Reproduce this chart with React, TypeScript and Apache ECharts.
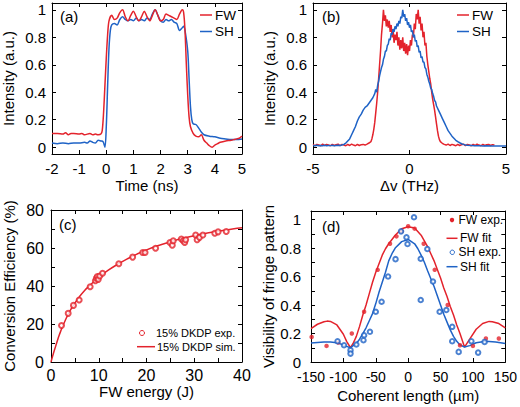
import React, { useEffect, useRef } from 'react';
import * as echarts from 'echarts';

const RED = '#e3232c';
const BLUE = '#1f63c6';
const FONT = 'Liberation Sans, Arial, sans-serif';

// (a) temporal profiles: [time ns, intensity]
const timeFW: number[][] = [
  [-2.0, 0.1], [-1.8, 0.1], [-1.6, 0.095], [-1.5, 0.105], [-1.4, 0.09], [-1.3, 0.1], [-1.2, 0.1], [-1.0, 0.095],
  [-0.9, 0.1], [-0.8, 0.09], [-0.6, 0.1], [-0.5, 0.09], [-0.4, 0.095], [-0.3, 0.09], [-0.2, 0.095], [-0.15, 0.12],
  [-0.1, 0.25], [-0.05, 0.45], [0.0, 0.65], [0.05, 0.82], [0.1, 0.92], [0.2, 0.96], [0.3, 0.93], [0.4, 0.94],
  [0.5, 0.98], [0.6, 1.0], [0.7, 0.95], [0.8, 0.92], [0.9, 0.96], [1.0, 0.99], [1.1, 0.95], [1.2, 0.92],
  [1.3, 0.95], [1.4, 0.99], [1.5, 0.95], [1.6, 0.92], [1.7, 0.96], [1.8, 1.0], [1.9, 0.96], [2.0, 0.92],
  [2.1, 0.93], [2.2, 0.97], [2.3, 0.96], [2.4, 0.95], [2.5, 0.94], [2.6, 0.93], [2.7, 0.97], [2.8, 1.0],
  [2.85, 0.98], [2.9, 0.85], [2.95, 0.6], [3.0, 0.38], [3.05, 0.22], [3.1, 0.15], [3.2, 0.1], [3.3, 0.08],
  [3.4, 0.075], [3.5, 0.09], [3.6, 0.05], [3.7, 0.03], [3.8, 0.01], [3.9, 0.0], [4.0, 0.015], [4.1, 0.025],
  [4.2, 0.035], [4.4, 0.045], [4.6, 0.05], [4.75, 0.058], [4.9, 0.065], [5.0, 0.08],
];
const timeSH: number[][] = [
  [-2.0, 0.03], [-1.8, 0.025], [-1.6, 0.03], [-1.4, 0.025], [-1.2, 0.03], [-1.0, 0.03], [-0.8, 0.035], [-0.7, 0.03],
  [-0.6, 0.045], [-0.5, 0.035], [-0.4, 0.03], [-0.3, 0.05], [-0.2, 0.045], [-0.12, 0.04], [-0.05, 0.0], [0.0, 0.15],
  [0.05, 0.45], [0.1, 0.72], [0.15, 0.85], [0.2, 0.89], [0.3, 0.9], [0.4, 0.89], [0.5, 0.93], [0.6, 0.95],
  [0.7, 0.93], [0.8, 0.92], [0.9, 0.93], [1.0, 0.92], [1.1, 0.94], [1.2, 0.92], [1.3, 0.93], [1.4, 0.92],
  [1.5, 0.94], [1.6, 0.93], [1.7, 0.97], [1.8, 1.0], [1.9, 0.96], [2.0, 0.92], [2.1, 0.91], [2.2, 0.93],
  [2.3, 0.92], [2.4, 0.93], [2.5, 0.91], [2.6, 0.9], [2.7, 0.85], [2.8, 0.87], [2.85, 0.88], [2.9, 0.85],
  [3.0, 0.7], [3.05, 0.5], [3.1, 0.3], [3.15, 0.2], [3.2, 0.17], [3.3, 0.165], [3.4, 0.14], [3.5, 0.11],
  [3.6, 0.09], [3.8, 0.08], [4.0, 0.075], [4.2, 0.065], [4.4, 0.06], [4.6, 0.055], [4.8, 0.055], [5.0, 0.06],
];

// (b) spectra: [Δv THz, intensity]
const specFW: number[][] = [
  [-5.0, 0.02], [-4.9, 0.01], [-4.8, 0.02], [-4.7, 0.015], [-4.6, 0.01], [-4.5, 0.022], [-4.4, 0.012], [-4.3, 0.02],
  [-4.2, 0.015], [-4.1, 0.01], [-4.0, 0.02], [-3.9, 0.012], [-3.8, 0.018], [-3.7, 0.022], [-3.6, 0.01], [-3.5, 0.02],
  [-3.4, 0.015], [-3.3, 0.01], [-3.2, 0.02], [-3.1, 0.012], [-3.0, 0.022], [-2.9, 0.015], [-2.8, 0.01], [-2.7, 0.02],
  [-2.6, 0.012], [-2.5, 0.018], [-2.4, 0.02], [-2.3, 0.015], [-2.2, 0.022], [-2.1, 0.03], [-2.0, 0.04], [-1.95, 0.06],
  [-1.9, 0.09], [-1.85, 0.13], [-1.8, 0.18], [-1.75, 0.25], [-1.7, 0.32], [-1.65, 0.4], [-1.6, 0.5], [-1.55, 0.6],
  [-1.5, 0.7], [-1.45, 0.82], [-1.4, 0.9], [-1.35, 1.0], [-1.3, 0.92], [-1.25, 0.96], [-1.2, 0.88], [-1.15, 0.93],
  [-1.1, 0.87], [-1.05, 0.92], [-1.0, 0.84], [-0.95, 0.89], [-0.9, 0.8], [-0.85, 0.86], [-0.8, 0.76], [-0.75, 0.82],
  [-0.7, 0.78], [-0.65, 0.84], [-0.6, 0.74], [-0.55, 0.8], [-0.5, 0.71], [-0.45, 0.78], [-0.4, 0.72], [-0.35, 0.8],
  [-0.3, 0.7], [-0.25, 0.76], [-0.2, 0.68], [-0.15, 0.75], [-0.1, 0.67], [-0.05, 0.74], [0.0, 0.7], [0.05, 0.78],
  [0.1, 0.74], [0.15, 0.82], [0.2, 0.8], [0.25, 0.9], [0.3, 0.86], [0.35, 0.97], [0.4, 0.93], [0.45, 1.0],
  [0.5, 0.9], [0.55, 0.95], [0.6, 0.85], [0.65, 0.9], [0.7, 0.8], [0.75, 0.84], [0.8, 0.74], [0.85, 0.76],
  [0.9, 0.66], [0.95, 0.6], [1.0, 0.55], [1.05, 0.5], [1.1, 0.46], [1.15, 0.4], [1.2, 0.35], [1.25, 0.31],
  [1.3, 0.27], [1.35, 0.22], [1.4, 0.17], [1.45, 0.12], [1.5, 0.08], [1.55, 0.055], [1.6, 0.04], [1.7, 0.028],
  [1.8, 0.02], [1.9, 0.015], [2.0, 0.022], [2.1, 0.012], [2.2, 0.02], [2.3, 0.015], [2.4, 0.01], [2.5, 0.02],
  [2.6, 0.012], [2.7, 0.018], [2.8, 0.022], [2.9, 0.01], [3.0, 0.02], [3.1, 0.015], [3.2, 0.01], [3.3, 0.02],
  [3.4, 0.012], [3.5, 0.022], [3.6, 0.015], [3.7, 0.01], [3.8, 0.02], [3.9, 0.012], [4.0, 0.018], [4.1, 0.02],
  [4.2, 0.012], [4.3, 0.018], [4.4, 0.015],
];
const specSH: number[][] = [
  [-5.0, 0.012], [-4.9, 0.01], [-4.8, 0.014], [-4.7, 0.01], [-4.6, 0.012], [-4.5, 0.01], [-4.4, 0.013], [-4.3, 0.01],
  [-4.2, 0.012], [-4.1, 0.011], [-4.0, 0.013], [-3.9, 0.01], [-3.8, 0.012], [-3.7, 0.014], [-3.6, 0.012], [-3.5, 0.015],
  [-3.4, 0.02], [-3.3, 0.03], [-3.2, 0.045], [-3.1, 0.06], [-3.0, 0.09], [-2.9, 0.12], [-2.8, 0.15], [-2.7, 0.19],
  [-2.6, 0.22], [-2.5, 0.24], [-2.4, 0.27], [-2.3, 0.29], [-2.2, 0.3], [-2.1, 0.32], [-2.0, 0.34], [-1.9, 0.36],
  [-1.8, 0.39], [-1.75, 0.42], [-1.7, 0.4], [-1.65, 0.45], [-1.6, 0.48], [-1.55, 0.52], [-1.5, 0.55], [-1.45, 0.58],
  [-1.4, 0.6], [-1.35, 0.64], [-1.3, 0.66], [-1.25, 0.7], [-1.2, 0.7], [-1.15, 0.74], [-1.1, 0.75], [-1.05, 0.79],
  [-1.0, 0.78], [-0.95, 0.83], [-0.9, 0.82], [-0.85, 0.86], [-0.8, 0.84], [-0.75, 0.88], [-0.7, 0.86], [-0.65, 0.9],
  [-0.6, 0.88], [-0.55, 0.92], [-0.5, 0.9], [-0.45, 0.95], [-0.4, 0.94], [-0.35, 1.0], [-0.3, 0.95], [-0.25, 0.97],
  [-0.2, 0.92], [-0.15, 0.94], [-0.1, 0.89], [-0.05, 0.91], [0.0, 0.87], [0.05, 0.89], [0.1, 0.84], [0.15, 0.85],
  [0.2, 0.8], [0.25, 0.82], [0.3, 0.77], [0.35, 0.78], [0.4, 0.73], [0.45, 0.74], [0.5, 0.69], [0.55, 0.7],
  [0.6, 0.65], [0.65, 0.66], [0.7, 0.62], [0.75, 0.62], [0.8, 0.58], [0.85, 0.57], [0.9, 0.53], [0.95, 0.51],
  [1.0, 0.48], [1.05, 0.46], [1.1, 0.43], [1.15, 0.42], [1.2, 0.39], [1.25, 0.37], [1.3, 0.34], [1.35, 0.33],
  [1.4, 0.3], [1.5, 0.27], [1.6, 0.24], [1.7, 0.21], [1.8, 0.18], [1.9, 0.15], [2.0, 0.12], [2.1, 0.1],
  [2.2, 0.08], [2.3, 0.065], [2.4, 0.05], [2.5, 0.04], [2.6, 0.032], [2.7, 0.025], [2.8, 0.02], [2.9, 0.016],
  [3.0, 0.013], [3.2, 0.012], [3.4, 0.01], [3.6, 0.011], [3.8, 0.009], [4.0, 0.01], [4.2, 0.008], [4.4, 0.009],
  [4.6, 0.008], [4.8, 0.008], [5.0, 0.008],
];

// (c) conversion efficiency: [FW energy J, efficiency %]
const effExp: number[][] = [
  [2.2, 19.2], [3.6, 25.6], [4.7, 29.8], [5.9, 32.6], [8.2, 39.6], [9.3, 42.8], [9.5, 44.1], [9.7, 45],
  [9.9, 43.5], [10.2, 45.3], [10.8, 46.7], [14.2, 51.7], [17.1, 55.2], [19.2, 57.6], [19.7, 57.6], [21.9, 59.9],
  [24.9, 62.9], [25.4, 61.5], [25.6, 63.8], [27.3, 64.7], [27.7, 63.8], [28.0, 62.9], [28.2, 64.3], [30.3, 66.8],
  [30.6, 64.3], [31.1, 65.6], [31.8, 66.8], [34.3, 67.8], [35.0, 68.5], [36.7, 68.7],
];
const effSim: number[][] = [
  [0, 0], [0.5, 4.5], [1, 8.5], [1.5, 12.5], [2, 16], [3, 22], [4, 27], [5, 31], [6, 34.5], [7, 37.5], [8, 40],
  [9, 42.3], [10, 44.5], [12, 48.3], [14, 51.5], [16, 54.3], [18, 56.8], [20, 59], [22, 60.9], [24, 62.5],
  [26, 64], [28, 65.3], [30, 66.5], [32, 67.5], [34, 68.4], [36, 69.2], [38, 70], [40, 70.6],
];

// (d) fringe visibility: [coherent length µm, visibility]
const visFWExp: number[][] = [
  [-149, 0.176], [-126, 0.113], [-108, 0.137], [-87, 0.2], [-68, 0.353], [-47, 0.647], [-28, 0.83], [-18, 0.882],
  [-10, 0.917], [0, 0.953], [10, 0.936], [24, 0.83], [41, 0.647], [61, 0.4], [80, 0.118], [100, 0.113],
  [120, 0.165], [140, 0.165],
];
const visFWFit: number[][] = [
  [-150, 0.235], [-140, 0.265], [-130, 0.283], [-125, 0.287], [-120, 0.285], [-110, 0.26], [-100, 0.195], [-95, 0.145],
  [-89, 0.1], [-85, 0.13], [-80, 0.18], [-75, 0.25], [-70, 0.33], [-65, 0.4], [-60, 0.48], [-55, 0.56],
  [-50, 0.63], [-45, 0.69], [-40, 0.75], [-35, 0.795], [-30, 0.83], [-20, 0.89], [-10, 0.935], [0, 0.95],
  [10, 0.94], [20, 0.89], [25, 0.85], [30, 0.81], [35, 0.76], [40, 0.71], [45, 0.65], [50, 0.59],
  [55, 0.52], [60, 0.46], [65, 0.39], [70, 0.33], [75, 0.26], [80, 0.2], [87, 0.105], [95, 0.16],
  [105, 0.23], [115, 0.27], [125, 0.285], [130, 0.283], [140, 0.27], [150, 0.24],
];
const visSHExp: number[][] = [
  [-109, 0.146], [-99, 0.118], [-89, 0.083], [-89, 0.059], [-80, 0.123], [-69, 0.153], [-68, 0.188], [-59, 0.212],
  [-50, 0.353], [-41, 0.423], [-31, 0.6], [-19.5, 0.722], [-11, 0.917], [-2.6, 0.875], [-1, 0.828], [9, 1.016],
  [19.4, 0.725], [19.4, 0.435], [29.6, 0.793], [38.3, 0.565], [48.6, 0.353], [58.9, 0.365], [68, 0.247], [68, 0.146],
  [78, 0.071], [97.6, 0.146], [108, 0.066], [118, 0.141],
];
const visSHFit: number[][] = [
  [-150, 0.134], [-140, 0.137], [-130, 0.14], [-120, 0.141], [-110, 0.135], [-100, 0.12], [-95, 0.11], [-89, 0.1],
  [-85, 0.115], [-80, 0.13], [-75, 0.16], [-70, 0.2], [-65, 0.24], [-60, 0.29], [-55, 0.34], [-50, 0.41],
  [-45, 0.49], [-40, 0.56], [-35, 0.63], [-30, 0.71], [-25, 0.76], [-20, 0.8], [-10, 0.845], [0, 0.86],
  [10, 0.83], [15, 0.795], [20, 0.75], [25, 0.7], [30, 0.64], [35, 0.585], [40, 0.53], [45, 0.465],
  [50, 0.4], [55, 0.335], [60, 0.28], [65, 0.225], [70, 0.18], [75, 0.145], [80, 0.12], [87, 0.105],
  [95, 0.115], [105, 0.135], [120, 0.146], [135, 0.141], [150, 0.13],
];

const TICK_FS = 15;
const NAME_FS = 15;

function xAxes(grid: number, min: number, max: number, interval: number, name: string, nameGap: number, labelMargin: number, minor?: boolean, fs = TICK_FS) {
  const common: any = {
    type: 'value', gridIndex: grid, min, max, interval,
    axisLine: { show: true, onZero: false, lineStyle: { color: '#000', width: 1 } },
    axisTick: { show: true, inside: true, length: 4, lineStyle: { color: '#000' } },
    minorTick: minor ? { show: true, splitNumber: 2, length: 4, lineStyle: { color: '#000' } } : { show: false },
    splitLine: { show: false },
  };
  return [
    {
      ...common, position: 'bottom', name, nameLocation: 'middle', nameGap,
      nameTextStyle: { fontSize: NAME_FS, fontFamily: FONT, color: '#000' },
      axisLabel: { show: true, margin: labelMargin, fontSize: fs, fontFamily: FONT, color: '#000' },
    },
    { ...common, position: 'top', axisLabel: { show: false } },
  ];
}

function yAxes(grid: number, opts: any, name: string, nameGap: number, labelMargin: number, minor?: boolean, fs = TICK_FS) {
  const common: any = {
    type: 'value', gridIndex: grid, ...opts,
    axisLine: { show: true, onZero: false, lineStyle: { color: '#000', width: 1 } },
    axisTick: { show: true, inside: true, length: 4, lineStyle: { color: '#000' } },
    minorTick: minor ? { show: true, splitNumber: 2, length: 4, lineStyle: { color: '#000' } } : { show: false },
    splitLine: { show: false },
  };
  return [
    {
      ...common, position: 'left', name, nameLocation: 'middle', nameGap,
      nameTextStyle: { fontSize: NAME_FS, fontFamily: FONT, color: '#000' },
      axisLabel: { show: true, margin: labelMargin, fontSize: fs, fontFamily: FONT, color: '#000', showMinLabel: opts.showMinLabel, showMaxLabel: opts.showMaxLabel },
    },
    { ...common, position: 'right', axisLabel: { show: false } },
  ];
}

function lineSeries(xi: number, data: number[][], color: string, smooth: number | boolean = false) {
  return {
    type: 'line', xAxisIndex: xi, yAxisIndex: xi, data, showSymbol: false, symbol: 'none', smooth,
    lineStyle: { color, width: 1.5 }, itemStyle: { color }, z: 3,
  };
}

function txt(text: string, x: number, y: number, fontSize: number, align = 'left') {
  return {
    type: 'text', x, y, z: 10,
    style: { text, fontSize, fontFamily: FONT, fill: '#000', align, verticalAlign: 'middle' },
  };
}
function seg(x1: number, x2: number, y: number, color: string) {
  return { type: 'line', z: 10, shape: { x1, y1: y, x2, y2: y }, style: { stroke: color, lineWidth: 1.5 } };
}

export default function App() {
  const ref = useRef<HTMLDivElement>(null);
  useEffect(() => {
    const chart = echarts.init(ref.current!, null, { renderer: 'svg' });
    const yUnit = { min: -0.05, max: 1.05, splitNumber: 5, showMinLabel: false, showMaxLabel: false };
    const option: any = {
      animation: false,
      backgroundColor: '#fff',
      textStyle: { fontFamily: FONT },
      grid: [
        { left: 51, top: 3, width: 191, height: 151 },
        { left: 313, top: 3, width: 193, height: 151 },
        { left: 51, top: 210, width: 191, height: 152 },
        { left: 311, top: 211, width: 195, height: 151 },
      ],
      xAxis: [
        ...xAxes(0, -2, 5, 1, 'Time (ns)', 24, 7),
        ...xAxes(1, -5, 5, 5, 'Δv (THz)', 24, 7),
        ...xAxes(2, 0, 40, 10, 'FW energy (J)', 22, 5, true, 16),
        ...xAxes(3, -150, 150, 50, 'Coherent length (µm)', 26, 8, false, 14),
      ],
      yAxis: [
        ...yAxes(0, yUnit, 'Intensity (a.u.)', 36, 6),
        ...yAxes(1, yUnit, 'Intensity (a.u.)', 36, 6),
        ...yAxes(2, { min: 0, max: 80, interval: 20 }, 'Conversion Efficiency (%)', 34, 7, true, 16),
        ...yAxes(3, { min: 0, max: 1.06, interval: 0.2, showMaxLabel: false }, 'Visibility of fringe pattern', 34, 10, true),
      ],
      series: [
        lineSeries(0, timeSH, BLUE, 0.3),
        lineSeries(0, timeFW, RED, 0.3),
        lineSeries(2, specFW, RED),
        lineSeries(2, specSH, BLUE),
        lineSeries(4, effSim, RED, true),
        {
          type: 'scatter', xAxisIndex: 4, yAxisIndex: 4, data: effExp, symbol: 'emptyCircle', symbolSize: 5,
          itemStyle: { color: RED, borderColor: RED, borderWidth: 1 }, z: 4,
        },
        lineSeries(6, visFWFit, RED),
        lineSeries(6, visSHFit, BLUE),
        {
          type: 'scatter', xAxisIndex: 6, yAxisIndex: 6, data: visFWExp, symbol: 'circle', symbolSize: 4.5,
          itemStyle: { color: RED }, z: 4,
        },
        {
          type: 'scatter', xAxisIndex: 6, yAxisIndex: 6, data: visSHExp, symbol: 'emptyCircle', symbolSize: 4.5,
          itemStyle: { color: BLUE, borderColor: BLUE, borderWidth: 1 }, z: 4,
        },
      ],
      graphic: [
        txt('(a)', 60, 16, 15),
        txt('(b)', 322, 16, 15),
        txt('(c)', 59, 224, 15),
        txt('(d)', 322, 226, 15),
        seg(200, 212, 15, RED), txt('FW', 215, 15, 13.5),
        seg(200, 212, 31.5, BLUE), txt('SH', 215, 31.5, 13.5),
        seg(457, 469, 15, RED), txt('FW', 472, 15, 13.5),
        seg(457, 469, 31.5, BLUE), txt('SH', 472, 31.5, 13.5),
        { type: 'circle', z: 10, shape: { cx: 142, cy: 333, r: 2.5 }, style: { stroke: RED, fill: '#fff', lineWidth: 1 } },
        txt('15% DKDP exp.', 156, 333, 11),
        seg(137, 155, 346.7, RED), txt('15% DKDP sim.', 157, 346.7, 11),
        { type: 'circle', z: 10, shape: { cx: 452, cy: 220, r: 2.2 }, style: { fill: RED } },
        txt('FW exp.', 458.5, 220, 12),
        seg(446.5, 457.5, 238.3, RED), txt('FW fit', 460, 238.3, 12),
        { type: 'circle', z: 10, shape: { cx: 452.3, cy: 252.3, r: 2.2 }, style: { stroke: BLUE, fill: '#fff', lineWidth: 1 } },
        txt('SH exp.', 458.5, 252.3, 12),
        seg(446.5, 457.5, 266.7, BLUE), txt('SH fit', 460, 266.7, 12),
      ],
    };
    chart.setOption(option);
    return () => chart.dispose();
  }, []);
  return (
    <div
      ref={ref}
      style={{ position: 'fixed', left: 0, top: 0, width: 520, height: 407, background: '#fff' }}
    />
  );
}
